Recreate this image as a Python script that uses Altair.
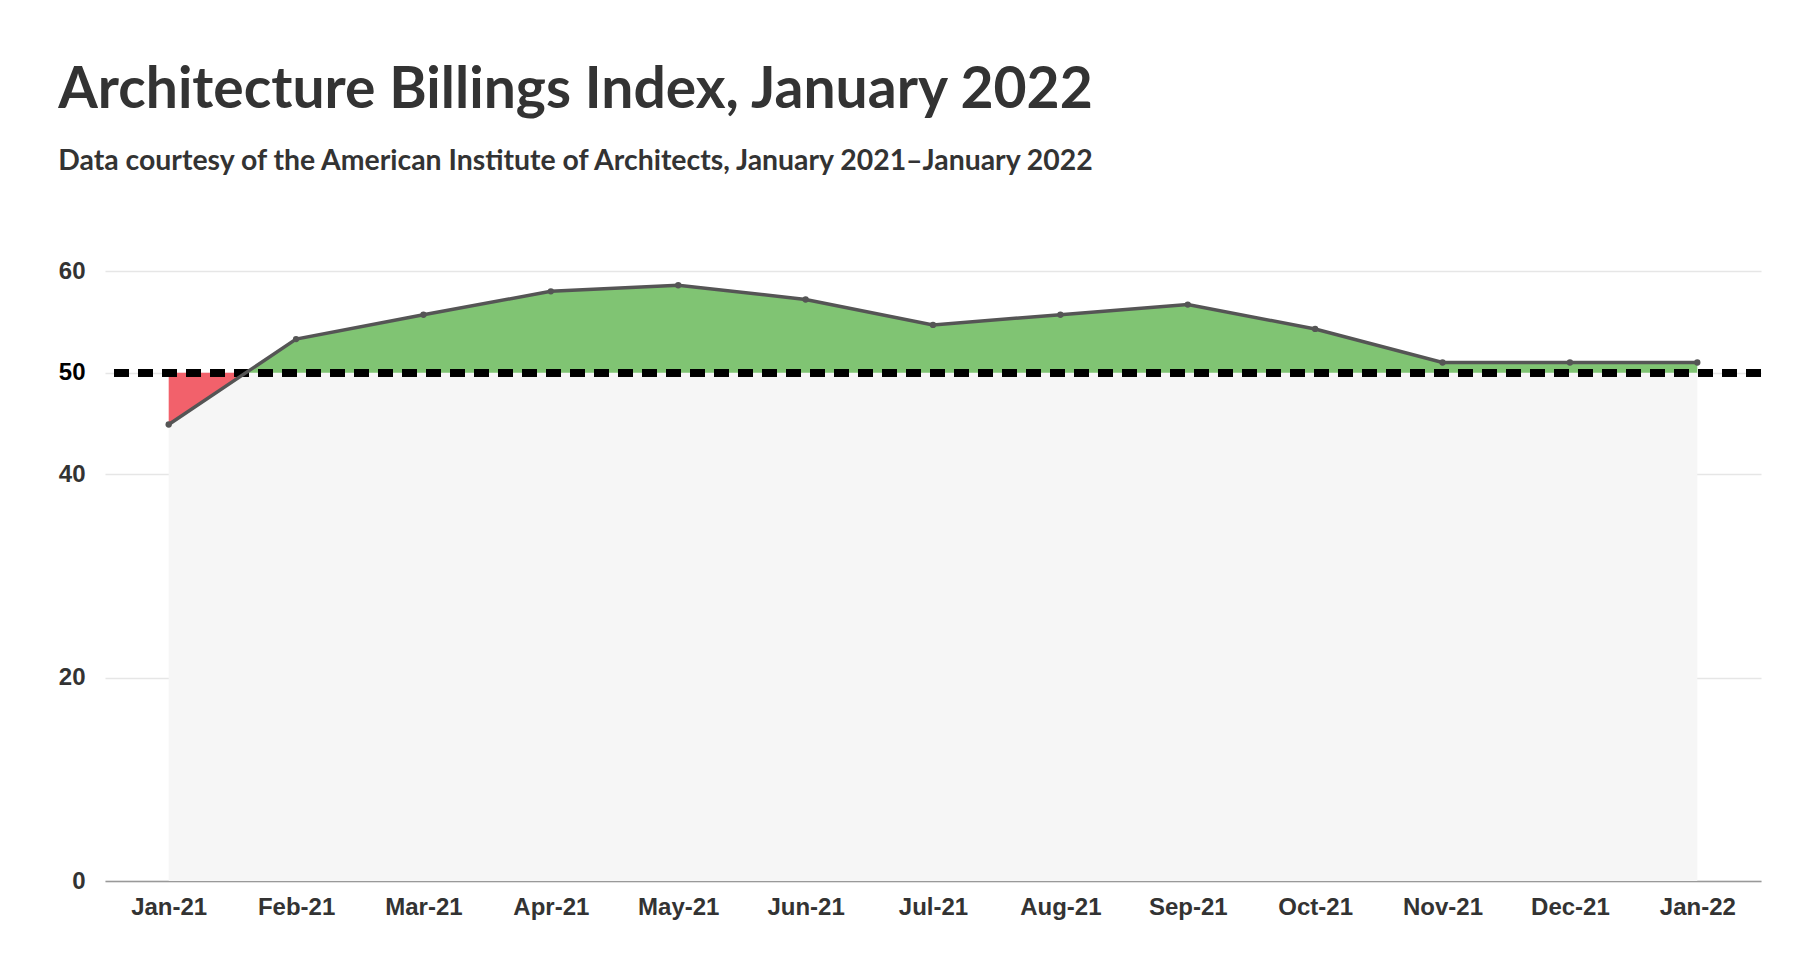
import altair as alt
import pandas as pd

months = ["Jan-21", "Feb-21", "Mar-21", "Apr-21", "May-21", "Jun-21", "Jul-21",
          "Aug-21", "Sep-21", "Oct-21", "Nov-21", "Dec-21", "Jan-22"]
abi = [44.9, 53.3, 55.7, 58.0, 58.6, 57.2, 54.7, 55.7, 56.7, 54.3, 51.0, 51.0, 51.0]
y_ticks = [0, 20, 40, 50, 60]
threshold = 50

# points of the line, plus the spots where it crosses 50 so green and red split cleanly
rows = []
for i, v in enumerate(abi):
    if i > 0 and (abi[i - 1] - threshold) * (v - threshold) < 0:
        t = (threshold - abi[i - 1]) / (v - abi[i - 1])
        rows.append({"x": i - 1 + t, "abi": threshold})
    rows.append({"x": i, "abi": v})
df = pd.DataFrame(rows)
df["above"] = df["abi"].clip(lower=threshold)
df["below"] = df["abi"].clip(upper=threshold)

pts = pd.DataFrame({"x": range(len(abi)), "abi": abi, "month": months})

label_expr = "[" + ",".join(f"'{m}'" for m in months) + "][datum.value]"

x = alt.X(
    "x:Q",
    scale=alt.Scale(domain=[-0.5, len(abi) - 0.5], nice=False, zero=False),
    axis=alt.Axis(
        values=list(range(len(abi))), labelExpr=label_expr, title=None,
        grid=False, ticks=False, domainColor="#999999", domainWidth=1.5,
        labelFont="Liberation Sans", labelFontWeight="bold", labelFontSize=24,
        labelColor="#333333", labelPadding=14,
    ),
)
y_scale = alt.Scale(domain=[0, 60], nice=False)
y_axis = alt.Axis(
    values=y_ticks, title=None, ticks=False, domain=False,
    gridColor="#e6e6e6", gridWidth=1.5,
    labelFont="Liberation Sans", labelFontWeight="bold", labelFontSize=24,
    labelColor=alt.ExprRef("datum.value == 50 ? '#000000' : '#333333'"),
    labelPadding=20,
)


def y(field):
    return alt.Y(field, scale=y_scale, axis=y_axis)


base = alt.Chart(df)

bg = base.mark_area(color="#f6f6f6").encode(x=x, y=y("abi:Q"), y2=alt.datum(0))

green = base.mark_area(color="#80c473").encode(x=x, y=y("above:Q"), y2=alt.datum(threshold))
red = base.mark_area(color="#f2616b").encode(x=x, y=y("below:Q"), y2=alt.datum(threshold))

line = base.mark_line(color="#555555", strokeWidth=3.5).encode(x=x, y=y("abi:Q"))

dots = alt.Chart(pts).mark_point(filled=True, color="#555555", size=40, opacity=1).encode(
    x=x, y=y("abi:Q")
)

rule = alt.Chart(pts).mark_rule(color="#000000", strokeWidth=7, strokeDash=[15, 9]).encode(
    y=alt.datum(threshold)
)

chart = (
    alt.layer(bg, green, red, rule, line, dots)
    .properties(
        width=1656,
        height=610,
        padding={"left": 50, "top": 53, "right": 40, "bottom": 20},
        background="white",
        title=alt.TitleParams(
            text="Architecture Billings Index, January 2022",
            subtitle="Data courtesy of the American Institute of Architects, January 2021–January 2022",
            anchor="start",
            frame="bounds",
            font="Lato",
            fontSize=57,
            fontWeight="bold",
            color="#333333",
            subtitleFont="Lato",
            subtitleFontSize=28.4,
            subtitleFontWeight="bold",
            subtitleColor="#333333",
            subtitlePadding=28,
            offset=83,
        ),
    )
    .configure_view(stroke=None)
)

chart.save("out.html", embed_options={"renderer": "svg", "actions": False})
